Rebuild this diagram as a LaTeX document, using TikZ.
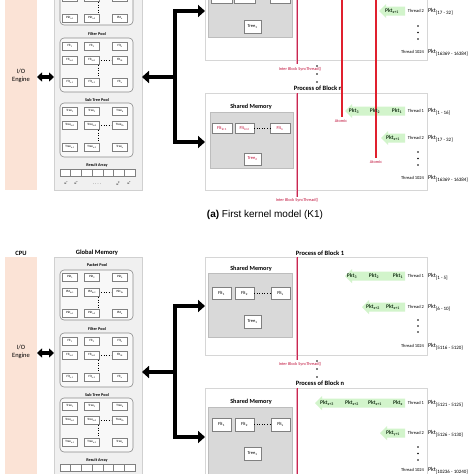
\documentclass[tikz,border=0pt]{standalone}
\usepackage{fontspec}
\setmainfont{Carlito}
\newfontfamily\capfont{Liberation Sans}
\usetikzlibrary{arrows.meta}
\definecolor{cpupink}{HTML}{FBE3D6}
\definecolor{gmfill}{HTML}{F0F0F0}
\definecolor{gmline}{HTML}{D0D0D0}
\definecolor{poolfill}{HTML}{F8F8F8}
\definecolor{poolline}{HTML}{8A8A8A}
\definecolor{itemline}{HTML}{808080}
\definecolor{shmfill}{HTML}{D9D9D9}
\definecolor{shmline}{HTML}{BDBDBD}
\definecolor{blkline}{HTML}{D6D6D6}
\definecolor{syncpink}{HTML}{EBA3BA}
\definecolor{syncred}{HTML}{C8284F}
\definecolor{atomred}{HTML}{E0202E}
\definecolor{labred}{HTML}{C0103A}
\definecolor{pktgreen}{HTML}{D2F4CB}
\definecolor{pktdark}{HTML}{1E3A1E}
\newcommand\sbs[1]{\textsubscript{#1}}
\newcommand\rbox[7][]{\node[#1,minimum width={(#5)-(#3)},minimum height={(#6)-(#4)}] (#2) at ({((#3)+(#5))/2},{((#4)+(#6))/2}) {#7};}
\newcommand\garrow[3]{\fill[pktgreen] (#1,#3) -- (#1+7,#3-7) -- (#1+7,#3-4.5) -- (#2,#3-4.5) -- (#2,#3+4.5) -- (#1+7,#3+4.5) -- (#1+7,#3+7) -- cycle;}
% #1 name, #2-#4 row y, #5 label base, #6 1 = show top two rows' texts
\newcommand\poolgrid[6]{%
  \node[itembox] (#1-11) at (70,#2) {\ifnum#6=1 #5\sbs{1}\fi};
  \node[itembox] (#1-12) at (92,#2) {\ifnum#6=1 #5\sbs{2}\fi};
  \node[itembox] (#1-13) at (120,#2) {\ifnum#6=1 #5\sbs{k}\fi};
  \node[itembox] (#1-21) at (70,#3) {\ifnum#6=1 #5\sbs{k+1}\fi};
  \node[itembox] (#1-22) at (92,#3) {\ifnum#6=1 #5\sbs{k+2}\fi};
  \node[itembox] (#1-23) at (120,#3) {\ifnum#6=1 #5\sbs{2k}\fi};
  \node[itembox] (#1-31) at (70,#4) {#5\sbs{n-1}};
  \node[itembox] (#1-32) at (92,#4) {#5\sbs{n-2}};
  \node[itembox] (#1-33) at (120,#4) {#5\sbs{n}};
  \draw[dotted,line width=0.5] (98,#3+5) -- (98,#4-5);
  \draw[dotted,line width=0.5] (101,#3) -- (111,#3);
}
\begin{document}
\begin{tikzpicture}[x=1pt,y=-1pt,
  every node/.style={inner sep=0pt,outer sep=0pt},
  cpubox/.style={fill=cpupink},
  gmbox/.style={fill=gmfill,draw=gmline,line width=0.7},
  poolbox/.style={draw=poolline,fill=poolfill,rounded corners=4,line width=0.6},
  itembox/.style={draw=itemline,fill=white,line width=0.45,minimum width=15,minimum height=8,font=\fontsize{3.2}{3.5}\selectfont},
  hdr/.style={font=\bfseries\fontsize{6.5}{7}\selectfont},
  shmhdr/.style={font=\bfseries\fontsize{6.2}{7}\selectfont},
  poolhdr/.style={font=\bfseries\fontsize{4.2}{4.5}\selectfont},
  iotext/.style={font=\fontsize{6.5}{7.5}\selectfont,align=center},
  blkbox/.style={draw=blkline,fill=white,line width=0.7},
  shmbox/.style={fill=shmfill,draw=shmline,line width=0.5},
  fltbox/.style={draw=itemline,fill=white,line width=0.5,font=\fontsize{4.5}{5}\selectfont},
  redtxt/.style={text=labred},
  syncline/.style={draw=syncpink,line width=2.6},
  synccore/.style={draw=syncred,line width=0.8},
  synclab/.style={font=\fontsize{4.3}{5}\selectfont,text=labred},
  atomline/.style={draw=atomred,line width=2.6},
  atomlab/.style={font=\fontsize{4.3}{5}\selectfont,text=labred},
  proclab/.style={font=\bfseries\fontsize{6.5}{7}\selectfont},
  thrlab/.style={font=\fontsize{4.5}{5}\selectfont,anchor=east},
  pktlab/.style={font=\fontsize{6}{6.5}\selectfont,anchor=west},
  gpkt/.style={font=\bfseries\fontsize{5.6}{6}\selectfont,text=pktdark},
  dotn/.style={circle,fill=black,minimum size=1.6},
  bigline/.style={line width=4,draw=black,line cap=rect},
  bigarr/.style={line width=4,draw=black,-{Triangle[length=7pt,width=12pt]}},
  dblarr/.style={line width=3.2,draw=black,{Triangle[length=5pt,width=9pt]}-{Triangle[length=5pt,width=9pt]}},
  rlab/.style={rotate=90,font=\fontsize{3}{3}\selectfont},
]
\useasboundingbox (0,0) rectangle (474,474);
\clip (0,0) rectangle (474,474);
\fill[white] (0,0) rectangle (474,474);

% ---------------- left column (CPU + global memory), a and b ----------------
\foreach \p/\s/\sh in {a/295/0,b/0/1}{
\begin{scope}[yshift=\s pt]
  \rbox[cpubox]{cpu\p}{5}{257}{37}{485}{}
  \rbox[gmbox]{gm\p}{54}{257}{142}{485}{}
  \rbox[poolbox]{pp\p}{60}{270}{133}{320}{}
  \poolgrid{ppg\p}{277}{292}{313}{Pkt}{\sh}
  \node[poolhdr] (fplab\p) at (97,329) {Filter Pool};
  \rbox[poolbox]{fp\p}{60}{333}{133}{387}{}
  \poolgrid{fpg\p}{341}{355}{377}{Flt}{1}
  \node[poolhdr] (stlab\p) at (97,395) {Sub Tree Pool};
  \rbox[poolbox]{st\p}{60}{398}{133}{452}{}
  \poolgrid{stg\p}{406}{420}{442}{Tree}{1}
  \node[poolhdr] (ralab\p) at (97,460) {Result Array};
  \foreach \i in {0,...,6}{
    \node[draw=itemline,fill=white,line width=0.45,minimum width=10.7,minimum height=7] (ra\p\i) at ({65.35+10.7*\i},467.5) {};
  }
\end{scope}
}
% labels of (b) left column (those of (a) lie above the picture)
\node[hdr] (cpulabb) at (21,253) {CPU};
\node[hdr] (gmlabb) at (97,253) {Global Memory};
\node[poolhdr] (pplabb) at (97,265) {Packet Pool};
% result array labels of (a)
\node[rlab] (rla1) at (66,183) {R\sbs{1}};
\node[rlab] (rla2) at (76,183) {R\sbs{2}};
\node[font=\fontsize{4}{4}\selectfont] (rla3) at (97,184) {. . . .};
\node[rlab] (rla4) at (118,183) {R\sbs{n-1}};
\node[rlab] (rla5) at (129,183) {R\sbs{n}};

% I/O engines and CPU <-> global memory arrows
\node[iotext] (ioa) at (21,76) {I/O\\Engine};
\coordinate (ioya) at (0,77);
\draw[dblarr] (cpua.east |- ioya) -- (gma.west |- ioya);
\node[iotext] (iob) at (21,352) {I/O\\Engine};
\coordinate (ioyb) at (0,353);
\draw[dblarr] (cpub.east |- ioyb) -- (gmb.west |- ioyb);

% ---------------- (a) right side ----------------
% block 1 (a)
\rbox[blkbox]{blkA1}{205}{-38}{427}{60}{}
\rbox[shmbox]{shmA1}{208}{-30}{292}{37}{}
\rbox[fltbox]{fA11}{211}{-9}{232}{3}{}
\rbox[fltbox]{fA12}{234}{-9}{255}{3}{}
\rbox[fltbox]{fA13}{270}{-9}{290}{3}{}
\rbox[fltbox]{tA1}{244}{20}{261}{33}{Tree\sbs{1}}
% block n (a)
\rbox[blkbox]{blkAn}{205}{93}{427}{190}{}
\node[shmhdr] (shlAn) at (251,107) {Shared Memory};
\rbox[shmbox]{shmAn}{210}{112}{293}{168}{}
\rbox[fltbox,redtxt]{fAn1}{212}{123}{232}{133}{Flt\sbs{k+1}}
\rbox[fltbox,redtxt]{fAn2}{235}{123}{254}{133}{Flt\sbs{k+2}}
\rbox[fltbox,redtxt]{fAn3}{270}{123}{290}{133}{Flt\sbs{n}}
\draw[dotted,line width=0.6] (fAn2.east) -- (fAn3.west);
\rbox[fltbox,redtxt]{tAn}{244}{153}{261}{165}{Tree\sbs{2}}

% bracket arrows (a)
\coordinate (brA1) at (175,11);
\coordinate (brA2) at (175,142);
\coordinate (brAm) at (175,77);
\draw[bigline] (brA1) -- (brA2);
\draw[bigarr] (brA1) -- (blkA1.west |- brA1);
\draw[bigarr] (brA2) -- (blkAn.west |- brA2);
\draw[bigarr] (brAm) -- (gma.east |- brAm);

% sync lines (a)
\coordinate (sA1t) at (297,-40); \coordinate (sA1b) at (297,64);
\draw[syncline] (sA1t) -- (sA1b); \draw[synccore] (sA1t) -- (sA1b);
\node[synclab] (slA1) at (300,69.5) {Inter Block SyncThread()};
\coordinate (sAnt) at (297,93); \coordinate (sAnb) at (297,197);
\draw[syncline] (sAnt) -- (sAnb); \draw[synccore] (sAnt) -- (sAnb);
\node[synclab] (slAn) at (297,200.5) {Inter Block SyncThread()};
\node[dotn] (dA1) at (317,66) {};
\node[dotn] (dA2) at (317,74) {};
\node[dotn] (dA3) at (317,82) {};
\node[proclab] (pAn) at (318,88) {Process of Block n};

% green packet rows (a)
\garrow{379}{405}{11}
\garrow{345}{405}{111}
\garrow{381}{405}{138}

% atomic lines (a)
\coordinate (atA1t) at (342,-5); \coordinate (atA1b) at (342,117);
\coordinate (atA2t) at (376,-5); \coordinate (atA2b) at (376,158);
\draw[atomline] (atA1t) -- (atA1b);
\draw[atomline] (atA2t) -- (atA2b);
\node[atomlab] (atlA1) at (341,121) {Atomic};
\node[atomlab] (atlA2) at (376,162.5) {Atomic};

\node[gpkt] (gA11) at (392,11) {Pkt\sbs{x+1}};
\node[thrlab] (thA12) at (424,11) {Thread 2};
\node[pktlab] (pkA12) at (428,11.5) {Pkt\sbs{[17 - 32]}};
\node[dotn] (dA4) at (418,26) {};
\node[dotn] (dA5) at (418,32.5) {};
\node[dotn] (dA6) at (418,39) {};
\node[thrlab] (thA1k) at (424,52) {Thread 1024};
\node[pktlab] (pkA1k) at (428,52.5) {Pkt\sbs{[16369 - 16384]}};

\node[gpkt] (gAn1) at (354,111) {Pkt\sbs{3}};
\node[gpkt] (gAn2) at (375,111) {Pkt\sbs{2}};
\node[gpkt] (gAn3) at (397,111) {Pkt\sbs{1}};
\node[thrlab] (thAn1) at (424,111) {Thread 1};
\node[pktlab] (pkAn1) at (428,111.5) {Pkt\sbs{[1 - 16]}};
\node[gpkt] (gAn4) at (393,138) {Pkt\sbs{x+1}};
\node[thrlab] (thAn2) at (424,138) {Thread 2};
\node[pktlab] (pkAn2) at (428,138.5) {Pkt\sbs{[17 - 32]}};
\node[dotn] (dA7) at (418,152) {};
\node[dotn] (dA8) at (418,158.5) {};
\node[dotn] (dA9) at (418,165) {};
\node[thrlab] (thAnk) at (424,178) {Thread 1024};
\node[pktlab] (pkAnk) at (428,178.5) {Pkt\sbs{[16369 - 16384]}};

% caption (a)
\node[font=\capfont\fontsize{10}{11}\selectfont] (capA) at (265,215) {\textbf{(a)} First kernel model (K1)};

% ---------------- (b) right side ----------------
\node[proclab] (pB1) at (320,253) {Process of Block 1};
\rbox[blkbox]{blkB1}{205}{257}{427}{355}{}
\node[shmhdr] (shlB1) at (251,269) {Shared Memory};
\rbox[shmbox]{shmB1}{208}{273}{292}{337}{}
\rbox[fltbox]{fB11}{212}{287}{231}{299}{Flt\sbs{1}}
\rbox[fltbox]{fB12}{235}{287}{254}{299}{Flt\sbs{2}}
\rbox[fltbox]{fB13}{271}{287}{290}{299}{Flt\sbs{L}}
\draw[dotted,line width=0.6] (fB12.east) -- (fB13.west);
\rbox[fltbox]{tB1}{244}{315}{261}{328}{Tree\sbs{1}}

\rbox[blkbox]{blkBn}{205}{388}{427}{490}{}
\node[shmhdr] (shlBn) at (251,402) {Shared Memory};
\rbox[shmbox]{shmBn}{208}{407}{292}{482}{}
\rbox[fltbox]{fBn1}{212}{418}{231}{431}{Flt\sbs{1}}
\rbox[fltbox]{fBn2}{235}{418}{254}{431}{Flt\sbs{2}}
\rbox[fltbox]{fBn3}{271}{418}{290}{431}{Flt\sbs{L}}
\draw[dotted,line width=0.6] (fBn2.east) -- (fBn3.west);
\rbox[fltbox]{tBn}{244}{447}{261}{460}{Tree\sbs{1}}

% bracket arrows (b)
\coordinate (brB1) at (175,306);
\coordinate (brB2) at (175,437);
\coordinate (brBm) at (175,372);
\draw[bigline] (brB1) -- (brB2);
\draw[bigarr] (brB1) -- (blkB1.west |- brB1);
\draw[bigarr] (brB2) -- (blkBn.west |- brB2);
\draw[bigarr] (brBm) -- (gmb.east |- brBm);

% sync lines (b)
\coordinate (sB1t) at (297,257); \coordinate (sB1b) at (297,360);
\draw[syncline] (sB1t) -- (sB1b); \draw[synccore] (sB1t) -- (sB1b);
\node[synclab] (slB1) at (300,364.5) {Inter Block SyncThread()};
\coordinate (sBnt) at (297,388); \coordinate (sBnb) at (297,480);
\draw[syncline] (sBnt) -- (sBnb); \draw[synccore] (sBnt) -- (sBnb);
\node[dotn] (dB1) at (317,361) {};
\node[dotn] (dB2) at (317,369) {};
\node[dotn] (dB3) at (317,377) {};
\node[proclab] (pBn) at (320,383) {Process of Block n};

% green packet rows (b)
\garrow{345}{405}{276}
\garrow{362}{405}{307}
\garrow{315}{405}{403}
\garrow{380}{405}{433}

\node[gpkt] (gB11) at (352,276) {Pkt\sbs{3}};
\node[gpkt] (gB12) at (374,276) {Pkt\sbs{2}};
\node[gpkt] (gB13) at (398,276) {Pkt\sbs{1}};
\node[thrlab] (thB11) at (424,276) {Thread 1};
\node[pktlab] (pkB11) at (428,276.5) {Pkt\sbs{[1 - 5]}};
\node[gpkt] (gB14) at (373,307) {Pkt\sbs{x+2}};
\node[gpkt] (gB15) at (393,307) {Pkt\sbs{x+1}};
\node[thrlab] (thB12) at (424,307) {Thread 2};
\node[pktlab] (pkB12) at (428,307.5) {Pkt\sbs{[6 - 10]}};
\node[dotn] (dB4) at (418,320) {};
\node[dotn] (dB5) at (418,326) {};
\node[dotn] (dB6) at (418,332) {};
\node[thrlab] (thB1k) at (424,346) {Thread 1024};
\node[pktlab] (pkB1k) at (428,346.5) {Pkt\sbs{[5116 - 5120]}};

\node[gpkt] (gBn1) at (327,403) {Pkt\sbs{x+3}};
\node[gpkt] (gBn2) at (352,403) {Pkt\sbs{x+2}};
\node[gpkt] (gBn3) at (375,403) {Pkt\sbs{x+1}};
\node[gpkt] (gBn4) at (398,403) {Pkt\sbs{x}};
\node[thrlab] (thBn1) at (424,403) {Thread 1};
\node[pktlab] (pkBn1) at (428,403.5) {Pkt\sbs{[5121 - 5125]}};
\node[gpkt] (gBn5) at (393,433) {Pkt\sbs{y+1}};
\node[thrlab] (thBn2) at (424,433) {Thread 2};
\node[pktlab] (pkBn2) at (428,433.5) {Pkt\sbs{[5126 - 5130]}};
\node[dotn] (dB7) at (418,447) {};
\node[dotn] (dB8) at (418,453.5) {};
\node[dotn] (dB9) at (418,460) {};
\node[thrlab] (thBnk) at (424,470) {Thread 1024};
\node[pktlab] (pkBnk) at (428,470.5) {Pkt\sbs{[10236 - 10240]}};
\end{tikzpicture}
\end{document}
